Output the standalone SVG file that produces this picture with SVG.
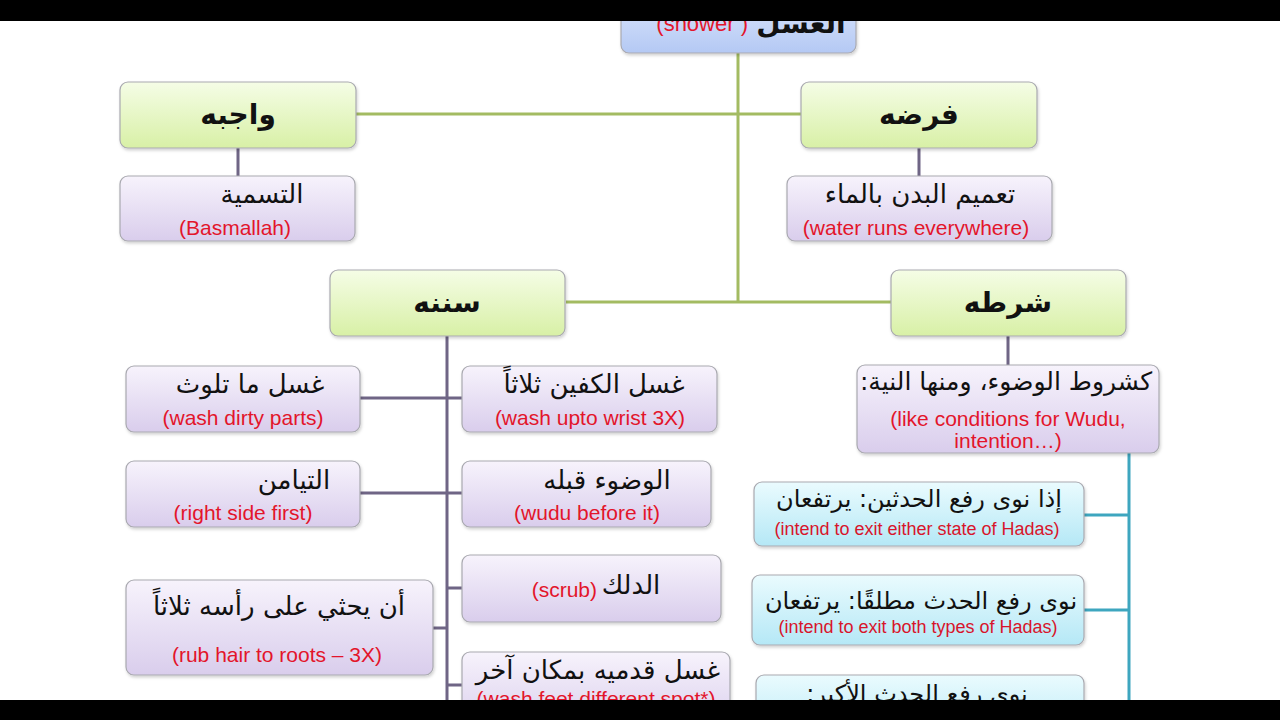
<svg xmlns="http://www.w3.org/2000/svg" width="1280" height="720" viewBox="0 0 1280 720">
<defs>
<linearGradient id="gGreen" x1="0" y1="0" x2="0" y2="1"><stop offset="0" stop-color="#f5fde6"/><stop offset="1" stop-color="#d8f0a6"/></linearGradient>
<linearGradient id="gPurple" x1="0" y1="0" x2="0" y2="1"><stop offset="0" stop-color="#f7f3fc"/><stop offset="1" stop-color="#d9cdec"/></linearGradient>
<linearGradient id="gTeal" x1="0" y1="0" x2="0" y2="1"><stop offset="0" stop-color="#eafbfe"/><stop offset="1" stop-color="#b5e8f6"/></linearGradient>
<linearGradient id="gBlue" x1="0" y1="0" x2="0" y2="1"><stop offset="0" stop-color="#dfe8fc"/><stop offset="1" stop-color="#b4c9f4"/></linearGradient>
<filter id="sh" x="-5%" y="-10%" width="110%" height="130%"><feDropShadow dx="1" dy="2" stdDeviation="1.5" flood-color="#000" flood-opacity="0.18"/></filter>
</defs>
<style>
.box{stroke:#a9a9b0;stroke-width:1.2;filter:url(#sh)}
.g{fill:url(#gGreen)}.p{fill:url(#gPurple)}.t{fill:url(#gTeal)}.b{fill:url(#gBlue)}
.ar{font-family:"DejaVu Sans",sans-serif;font-size:26px;fill:#111;text-anchor:middle;direction:rtl}
.hd{font-family:"DejaVu Sans",sans-serif;font-size:28px;font-weight:bold;fill:#111;text-anchor:middle;direction:rtl}
.en{font-family:"Liberation Sans",Arial,sans-serif;font-size:21px;fill:#e3152b;text-anchor:middle}
.ens{font-family:"Liberation Sans",Arial,sans-serif;font-size:18px;fill:#d8152b;text-anchor:middle}
.lg{stroke:#a3bb62;stroke-width:3;fill:none}
.lp{stroke:#6f6585;stroke-width:3;fill:none}
.lt{stroke:#3ea6bf;stroke-width:3;fill:none}
</style>
<rect width="1280" height="720" fill="#ffffff"/>
<g id="connectors">
<path class="lg" d="M738 53V302M356 114H801M566 302H891"/>
<path class="lp" d="M238 148V176M919 148V176M1008 336V365"/>
<path class="lp" d="M447 336V700M360 398H462M360 493H462M433 628H447M447 588H462M447 685H462"/>
<path class="lt" d="M1129 453V700M1084 515H1129M1084 610H1129"/>
</g>
<g id="n-ghusl"><rect class="box b" x="621" y="-10" width="235" height="63" rx="8"/><text class="en" x="748" y="31" style="font-size:22px;text-anchor:end">(shower )</text><text class="hd" x="801" y="33">الغسل</text></g>
<g id="n-wajib"><rect class="box g" x="120" y="82" width="236" height="66" rx="8"/><text class="hd" x="238" y="124">واجبه</text></g>
<g id="n-fard"><rect class="box g" x="801" y="82" width="236" height="66" rx="8"/><text class="hd" x="919" y="124">فرضه</text></g>
<g id="n-tasmiya"><rect class="box p" x="120" y="176" width="235" height="65" rx="8"/><text class="ar" x="262" y="203">التسمية</text><text class="en" x="235" y="235">(Basmallah)</text></g>
<g id="n-taamim"><rect class="box p" x="787" y="176" width="265" height="65" rx="8"/><text class="ar" x="920" y="203">تعميم البدن بالماء</text><text class="en" x="916" y="235">(water runs everywhere)</text></g>
<g id="n-sunan"><rect class="box g" x="330" y="270" width="235" height="66" rx="8"/><text class="hd" x="447" y="312">سننه</text></g>
<g id="n-shart"><rect class="box g" x="891" y="270" width="235" height="66" rx="8"/><text class="hd" x="1008" y="312">شرطه</text></g>
<g id="n-shurut"><rect class="box p" x="857" y="365" width="302" height="88" rx="8"/><text class="ar" x="1006" y="390" style="font-size:25px">كشروط الوضوء، ومنها النية:</text><text class="en" x="1008" y="426">(like conditions for Wudu,</text><text class="en" x="1008" y="448">intention…)</text></g>
<g id="n-hadathayn"><rect class="box t" x="754" y="482" width="330" height="64" rx="8"/><text class="ar" x="919" y="507" style="font-size:24px">إذا نوى رفع الحدثين: يرتفعان</text><text class="ens" x="917" y="535">(intend to exit either state of Hadas)</text></g>
<g id="n-mutlaqan"><rect class="box t" x="752" y="575" width="332" height="70" rx="8"/><text class="ar" x="921" y="609" style="font-size:24px">نوى رفع الحدث مطلقًا: يرتفعان</text><text class="ens" x="918" y="633">(intend to exit both types of Hadas)</text></g>
<g id="n-akbar"><rect class="box t" x="756" y="675" width="328" height="70" rx="8"/><text class="ar" x="917" y="702" style="font-size:24px">نوى رفع الحدث الأكبر:</text></g>
<g id="n-talawwath"><rect class="box p" x="126" y="366" width="234" height="66" rx="8"/><text class="ar" x="250" y="393">غسل ما تلوث</text><text class="en" x="243" y="425">(wash dirty parts)</text></g>
<g id="n-tayamun"><rect class="box p" x="126" y="461" width="234" height="66" rx="8"/><text class="ar" x="294" y="489">التيامن</text><text class="en" x="243" y="520">(right side first)</text></g>
<g id="n-yahthi"><rect class="box p" x="126" y="580" width="307" height="95" rx="8"/><text class="ar" x="279" y="615">أن يحثي على رأسه ثلاثاً</text><text class="en" x="277" y="662">(rub hair to roots – 3X)</text></g>
<g id="n-kaffayn"><rect class="box p" x="462" y="366" width="255" height="66" rx="8"/><text class="ar" x="594" y="393">غسل الكفين ثلاثاً</text><text class="en" x="590" y="425">(wash upto wrist 3X)</text></g>
<g id="n-wudu"><rect class="box p" x="462" y="461" width="249" height="66" rx="8"/><text class="ar" x="607" y="489">الوضوء قبله</text><text class="en" x="587" y="520">(wudu before it)</text></g>
<g id="n-dalk"><rect class="box p" x="462" y="555" width="259" height="67" rx="8"/><text class="en" x="597" y="597" style="text-anchor:end">(scrub)</text><text class="ar" x="631" y="594">الدلك</text></g>
<g id="n-qadamayh"><rect class="box p" x="462" y="652" width="268" height="80" rx="8"/><text class="ar" x="598" y="679">غسل قدميه بمكان آخر</text><text class="en" x="596" y="706">(wash feet different spot*)</text></g>
<rect x="0" y="0" width="1280" height="21" fill="#000"/>
<rect x="0" y="700" width="1280" height="20" fill="#000"/>
</svg>
